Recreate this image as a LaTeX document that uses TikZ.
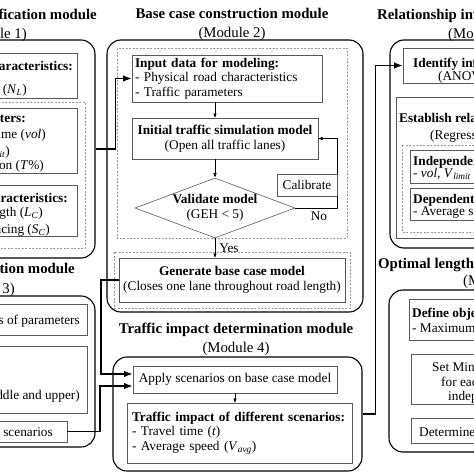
\documentclass[tikz,border=0pt]{standalone}
\usepackage{fontspec}
\setmainfont{Liberation Serif}
\usetikzlibrary{shapes.geometric,arrows.meta}
\newcommand{\bodyfont}{\fontsize{13.3}{14.5}\selectfont}
\newcommand{\headfont}{\fontsize{14.8}{19}\selectfont}
\newcommand{\sym}[2]{\textit{#1}\textsubscript{\textit{#2}}}
\tikzset{
  box/.style={draw=black!65, line width=0.6pt, inner sep=0pt, outer sep=0pt},
  txtbox/.style={box, align=center, font=\bodyfont},
  modbox/.style={draw, line width=1.1pt, rounded corners=14pt, inner sep=0pt},
  dashbox/.style={draw=black!40, line width=0.5pt, dash pattern=on 2pt off 1.5pt},
  link/.style={line width=1.6pt, -{Latex[length=9pt,width=6.5pt]}},
  flow/.style={line width=0.6pt, -{Latex[length=4.5pt,width=3.5pt]}},
  head/.style={align=center, font=\headfont},
  txt/.style={font=\bodyfont, inner sep=0pt},
  htxt/.style={font=\headfont, inner sep=0pt},
}
\begin{document}
\begin{tikzpicture}[x=1pt,y=-1pt]
\useasboundingbox (0,0) rectangle (474,474);
\clip (0,0) rectangle (474,474);
% modules
\node[modbox, minimum width=195, minimum height=218] (m1) at (-2.5,149) {};
\node[modbox, minimum width=256, minimum height=272] (m2) at (235,176) {};
\node[modbox, minimum width=195, minimum height=151] (m3) at (-2.5,371.5) {};
\node[modbox, minimum width=249, minimum height=114] (m4) at (237.5,414) {};
\node[modbox, minimum width=210, minimum height=208] (m5) at (495,144) {};
\node[modbox, minimum width=211, minimum height=162] (m6) at (494.5,371) {};
\node[htxt, anchor=base east] (h1a) at (97,19) {\textbf{Parameter identification module}};
\node[htxt, anchor=base east] (h1b) at (27,38) {(Module 1)};
\node[head] (h2) at (232,24) {\textbf{Base case construction module}\\(Module 2)};
\node[htxt, anchor=base east] (h3a) at (75,273) {\textbf{Scenario generation module}};
\node[htxt, anchor=base east] (h3b) at (15,293) {(Module 3)};
\node[head] (h4) at (236,339) {\textbf{Traffic impact determination module}\\(Module 4)};
\node[htxt, anchor=base west] (h5a) at (377,19) {\textbf{Relationship investigation module}};
\node[htxt, anchor=base west] (h5b) at (448,38) {(Module 5)};
\node[htxt, anchor=base west] (h6a) at (378,268) {\textbf{Optimal length determination module}};
\node[htxt, anchor=base west] (h6b) at (463,285) {(Module 6)};
% module 1
\draw[dashbox] (-95,102) rectangle (85,248);
\node[box, minimum width=172, minimum height=45] (b11) at (-9,75.5) {};
\node[box, minimum width=172, minimum height=65] (b12) at (-9,140.5) {};
\node[box, minimum width=172, minimum height=51] (b13) at (-9,210.5) {};
\node[txt, anchor=base east] (p1a) at (73,70) {\textbf{Physical road characteristics:}};
\node[txt, anchor=base east] (p1b) at (27,93) {- Number of lanes (\sym{N}{L})};
\node[txt, anchor=base east] (p2a) at (26,122) {\textbf{Traffic parameters:}};
\node[txt, anchor=base east] (p2b) at (46,138) {- Traffic volume (\textit{vol})};
\node[txt, anchor=base east] (p2c) at (10,155) {- Speed limit (\sym{V}{limit})};
\node[txt, anchor=base east] (p2d) at (44,169) {- Truck proportion (\textit{T}\%)};
\node[txt, anchor=base east] (p3a) at (68,202) {\textbf{Crossover characteristics:}};
\node[txt, anchor=base east] (p3b) at (43,216) {- Crossover length (\sym{L}{C})};
\node[txt, anchor=base east] (p3c) at (50,233) {- Crossover spacing (\sym{S}{C})};
% module 2
\draw[dashbox] (117,48) rectangle (347,238);
\draw[dashbox] (114,252) rectangle (350,308);
\node[txtbox, align=left, minimum width=190, minimum height=47, text width=184, inner xsep=3] (input) at (227,78.5)
  {\textbf{Input data for modeling:}\\- Physical road characteristics\\- Traffic parameters};
\node[txtbox, minimum width=186, minimum height=41] (init) at (225,138.5)
  {\textbf{Initial traffic simulation model}\\(Open all traffic lanes)};
\node[diamond, draw=black!65, line width=0.6pt, align=center, font=\bodyfont, inner sep=0pt,
  aspect=2.67, minimum width=160, minimum height=60] (valid) at (215,208)
  {\textbf{Validate model}\\(GEH < 5)};
\node[txtbox, minimum width=60, minimum height=22] (calib) at (307,185) {Calibrate};
\node[txtbox, minimum width=226, minimum height=44] (gen) at (232,280)
  {\textbf{Generate base case model}\\(Closes one lane throughout road length)};
\draw[flow] (input.south -| valid.north) -- (init.north -| valid.north);
\draw[flow] (init.south -| valid.north) -- (valid.north);
\draw[flow] (valid.south) -- (gen.north -| valid.south) node[txt, midway, right=4pt] (yes) {Yes};
\draw[line width=0.6pt] (valid.east) -| (calib.south east);
\draw[flow] (calib.north east) |- (init.east);
\node[txt] (no) at (319,216) {No};
% module 3
\node[box, minimum width=177, minimum height=31] (b31) at (-1.5,319.5) {};
\node[box, minimum width=177, minimum height=67] (b32) at (-1.5,379.5) {};
\node[box, minimum width=157, minimum height=21] (b33) at (-11.5,431.5) {};
\node[txt, anchor=base east] (s1) at (80,324) {Define levels of parameters};
\node[txt, anchor=base east] (s2) at (80,399) {(lower, middle and upper)};
\node[txt, anchor=base east] (s3) at (53,436) {Generate different scenarios};
% module 4
\node[txtbox, minimum width=204, minimum height=27] (apply) at (235,379.5) {Apply scenarios on base case model};
\node[txtbox, align=left, minimum width=225, minimum height=60, text width=215, inner xsep=5] (impact) at (239.5,433)
  {\textbf{Traffic impact of different scenarios:}\\- Travel time (\textit{t})\\- Average speed (\sym{V}{avg})};
\draw[flow] (apply.south) -- (impact.north -| apply.south);
% module 5
\node[box, minimum width=157, minimum height=35] (ident) at (481.5,65.5) {};
\node[box, minimum width=184, minimum height=141] (est) at (488,167.5) {};
\draw[dashbox] (402,145) rectangle (575,232);
\node[box, minimum width=150, minimum height=33] (indep) at (485,166.5) {};
\node[box, minimum width=150, minimum height=32] (dep) at (485,204) {};
\node[txt, anchor=base west] (r1) at (413,67) {\textbf{Identify influential parameters}};
\node[txt, anchor=base west] (r2) at (438,80) {(ANOVA)};
\node[txt, anchor=base west] (r3) at (399,122) {\textbf{Establish relationship}};
\node[txt, anchor=base west] (r4) at (430,139) {(Regression analysis)};
\node[txt, anchor=base west] (r5) at (413,165) {\textbf{Independent variables:}};
\node[txt, anchor=base west] (r6) at (413,177) {- \textit{vol}, \sym{V}{limit}};
\node[txt, anchor=base west] (r7) at (413,203) {\textbf{Dependent variable:}};
\node[txt, anchor=base west] (r8) at (413,215) {- Average speed};
% module 6
\node[box, minimum width=151, minimum height=41] (def) at (484.5,319.5) {};
\node[box, minimum width=149, minimum height=50] (setb) at (485.5,379) {};
\node[box, minimum width=149, minimum height=25] (det) at (485.5,430.5) {};
\node[txt, anchor=base west] (o1) at (412,317) {\textbf{Define objective function:}};
\node[txt, anchor=base west] (o2) at (412,332) {- Maximum};
\node[txt, anchor=base west] (o3) at (432,371) {Set Minimum};
\node[txt, anchor=base west] (o4) at (441,386) {for each};
\node[txt, anchor=base west] (o5) at (448,400) {independent};
\node[txt, anchor=base west] (o6) at (419,436) {Determine};
% links between modules
\draw[link] (m1.east) -- ++(20,0) |- (input.west);
\draw[link] (gen.west) -- ++(-18,0) |- ([yshift=5.5pt]apply.west);
\draw[link] (b33.east) -- ++(33,0) |- ([yshift=-6.5pt]apply.west);
\draw[link] (m4.east) -- ++(13,0) |- (ident.west);
\end{tikzpicture}
\end{document}
